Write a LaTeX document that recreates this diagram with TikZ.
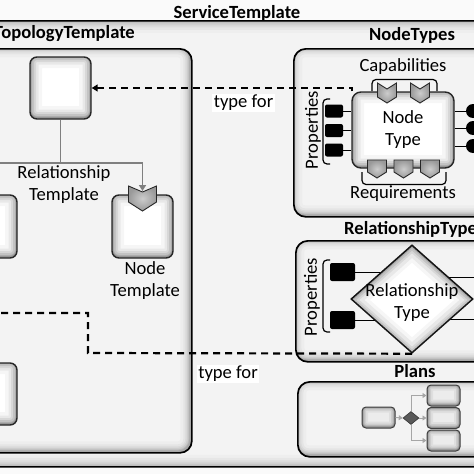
\documentclass[tikz,border=0pt]{standalone}
\usepackage{fontspec}
\setmainfont{Carlito}
\usetikzlibrary{shapes.geometric,arrows.meta}
\pgfdeclarelayer{back}
\pgfdeclarelayer{mid}
\pgfsetlayers{back,mid,main}
\definecolor{bg}{HTML}{F3F3F3}
\definecolor{conn}{HTML}{7F7F7F}
\newcommand\inshade[4]{%
  \foreach \w/\o in {#4}{%
    \draw[line width=\w pt, black, opacity=\o, rounded corners=#3]
      ([shift={(#1,#2)}]path picture bounding box.south west) rectangle
      ([shift={(#1,#2)}]path picture bounding box.north east);}}
\newcommand\chevron[6]{%
  \draw[chevst] (#1-#3,#2) -- (#1,#2+#4) -- (#1+#3,#2) -- (#1+#3,#2+#5)
    -- (#1,#2+#6) -- (#1-#3,#2+#5) -- cycle;}
\tikzset{
  lbl/.style={font=\fontsize{18.6}{22}\selectfont, align=center, inner sep=1pt},
  title/.style={font=\fontsize{18.6}{22}\selectfont\bfseries, inner sep=1pt},
  container/.style={draw=black, line width=1.7pt, rounded corners=12pt, fill=bg,
    inner sep=0pt, anchor=north west,
    path picture={\inshade{-1.5pt}{1.5pt}{12pt}{20/0.025,14/0.035,10/0.045,7/0.06,4/0.08,2/0.1}}},
  tnode/.style={draw=black!85, line width=1.4pt, rounded corners=7pt, fill=white,
    inner sep=0pt,
    path picture={\inshade{0pt}{1pt}{7pt}{24/0.035,17/0.055,12/0.07,8/0.09,4/0.11,2/0.13}}},
  plbox/.style={draw=black!75, line width=1pt, rounded corners=4pt, fill=gray!15,
    inner sep=0pt, minimum width=33, minimum height=21,
    path picture={\inshade{0pt}{0.5pt}{4pt}{12/0.05,8/0.08,5/0.1,3/0.12,1.5/0.14}}},
  chevst/.style={draw=black!85, line width=0.9pt, inner color=gray!40, outer color=gray!80},
  prop/.style={fill=black, rounded corners=2pt, inner sep=0pt},
  thinline/.style={draw=black, line width=1pt},
  bracket/.style={draw=black, line width=1.2pt, rounded corners=4pt},
  connline/.style={draw=conn, line width=1.6pt},
  typefor/.style={draw=black, line width=2.2pt, dash pattern=on 7pt off 5pt},
  tflbl/.style={lbl, fill=white, inner sep=1.5pt},
  plarr/.style={draw=gray!70, line width=0.9pt, -{Triangle[length=4pt,width=5pt]}}
}
\begin{document}
\begin{tikzpicture}[x=1pt,y=-1pt]
\useasboundingbox (0,0) rectangle (474,474);
\begin{pgfonlayer}{back}
  \fill[white!98!black] (0,0) rectangle (474,474);
  \node[container, minimum width=534, minimum height=446,
    path picture={\inshade{0pt}{0pt}{12pt}{24/0.02,18/0.03,13/0.04,9/0.05,5/0.07,2/0.09}}]
    (service) at (-30,20) {};
  \node[container, minimum width=221, minimum height=404] (topo) at (-30,48) {};
  \node[container, minimum width=217, minimum height=168] (ntbox) at (293,48) {};
  \node[container, minimum width=215, minimum height=121] (rtbox) at (295,240) {};
  \node[container, minimum width=213, minimum height=75] (plbox) at (297,381) {};
\end{pgfonlayer}

% titles
\node[title] (sttitle) at (237,13) {ServiceTemplate};
\node[title, anchor=east] (tttitle) at (136,34) {TopologyTemplate};
\node[title] (nttitle) at (412,35) {NodeTypes};
\node[title, anchor=west] (rttitle) at (343,229) {RelationshipTypes};
\node[title] (pltitle) at (415,371) {Plans};

% topology template
\node[tnode, minimum width=61, minimum height=62] (tn1) at (60.5,88) {};
\node[tnode, minimum width=61, minimum height=63] (tn2) at (142.5,226.5) {};
\node[tnode, minimum width=61, minimum height=63] (tn3) at (-13.5,226.5) {};
\node[tnode, minimum width=61, minimum height=62] (tn4) at (-13.5,394) {};
\chevron{142.5}{186}{14}{6}{16}{25}
\coordinate (rlft) at (-5,163);
\coordinate (chevtop) at (142.5,191);
\draw[connline] (tn1.south) |- (rlft);
\draw[connline, -{Triangle[length=6pt,width=7pt]}] (tn1.south |- rlft) -| (chevtop);
\node[lbl] (rtlbl) at (64,184.5) {Relationship\\Template};
\node[lbl] (ntlbl) at (145,281) {Node\\Template};

% node type
\node[tnode, rounded corners=9pt, minimum width=102, minimum height=76, lbl,
  font=\fontsize{18.6}{22}\selectfont] (nt) at (403,130) {Node\\Type};
\chevron{387}{83}{9.5}{6}{14}{20}
\chevron{420}{83}{9.5}{6}{14}{20}
\chevron{377}{160}{9.5}{0}{12}{18}
\chevron{403.5}{160}{9.5}{0}{12}{18}
\chevron{430}{160}{9.5}{0}{12}{18}
\node[prop, minimum width=18, minimum height=13] (np1) at (334,111) {};
\node[prop, minimum width=18, minimum height=13] (np2) at (334,130.5) {};
\node[prop, minimum width=18, minimum height=13] (np3) at (334,150) {};
\foreach \p in {np1,np2,np3} \draw[thinline] (\p.east) -- (\p.east -| nt.west);
\node[circle, fill=black, minimum size=14, inner sep=0pt] (ni1) at (473,111) {};
\node[circle, fill=black, minimum size=14, inner sep=0pt] (ni2) at (473,128) {};
\node[circle, fill=black, minimum size=14, inner sep=0pt] (ni3) at (473,146) {};
\foreach \p in {ni1,ni2,ni3} \draw[thinline] (nt.east |- \p) -- (\p);
\draw[bracket] (330,99) -- (323,99) -- (323,164) -- (330,164);
\draw[bracket] (372,91) -- (372,79.5) -- (437,79.5) -- (437,91);
\draw[bracket] (362,172) -- (362,184.5) -- (446,184.5) -- (446,172);
\node[lbl] (caplbl) at (403,67) {Capabilities};
\node[lbl] (reqlbl) at (403,194) {Requirements};
\node[lbl, rotate=90] (nplbl) at (313,130) {Properties};

% relationship type
\node[diamond, draw=black!85, line width=1.4pt, minimum width=122, minimum height=108,
  inner sep=0pt, fill=white] (rtd) at (412,299) {};
\begin{scope}
  \clip (rtd.north) -- (rtd.east) -- (rtd.south) -- (rtd.west) -- cycle;
  \foreach \w/\o in {26/0.035,19/0.055,12/0.07,8/0.09,4/0.11,2/0.13}
    \draw[line width=\w pt, black, opacity=\o] ([yshift=-1pt]rtd.north) -- ([yshift=-1pt]rtd.east)
      -- ([yshift=-1pt]rtd.south) -- ([yshift=-1pt]rtd.west) -- cycle;
\end{scope}
\node[lbl] (rttext) at (412,303) {Relationship\\Type};
\node[prop, minimum width=25, minimum height=18] (rp1) at (342.5,272) {};
\node[prop, minimum width=25, minimum height=18] (rp2) at (342.5,320) {};
\coordinate (rr1) at (480,277);
\coordinate (rr2) at (480,319);
\begin{pgfonlayer}{mid}
  \draw[thinline] (rp1.east) -- (rp1.east -| rtd.center);
  \draw[thinline] (rp2.east) -- (rp2.east -| rtd.center);
  \draw[thinline] (rr1 -| rtd.center) -- (rr1);
  \draw[thinline] (rr2 -| rtd.center) -- (rr2);
\end{pgfonlayer}
\draw[bracket] (330,260) -- (323,260) -- (323,332) -- (330,332);
\node[lbl, rotate=90] (rplbl) at (312,297) {Properties};

% plans
\node[plbox] (pl0) at (378.5,417.5) {};
\node[plbox] (pl1) at (443.5,395.5) {};
\node[plbox] (pl2) at (443.5,418) {};
\node[plbox] (pl3) at (443.5,440.5) {};
\node[diamond, fill=black!65, draw=black!80, line width=0.6pt, minimum width=16,
  minimum height=13, inner sep=0pt] (pld) at (411,418) {};
\draw[plarr] (pl0.east) -- (pld.west);
\draw[plarr] (pld.east) -- (pl2.west);
\draw[plarr] (pld.north) |- (pl1.west);
\draw[plarr] (pld.south) |- (pl3.west);

% type for connectors
\draw[typefor, -{Triangle[length=6pt,width=7pt]}] ([xshift=1pt]nt.north west) |- (tn1.east);
\node[tflbl] (tf1) at (243.5,103) {type for};
\coordinate (tfleft) at (-10,313);
\draw[typefor] (rtd.south) -- (88,353) |- (tfleft);
\node[tflbl] (tf2) at (228,374) {type for};
\end{tikzpicture}
\end{document}
